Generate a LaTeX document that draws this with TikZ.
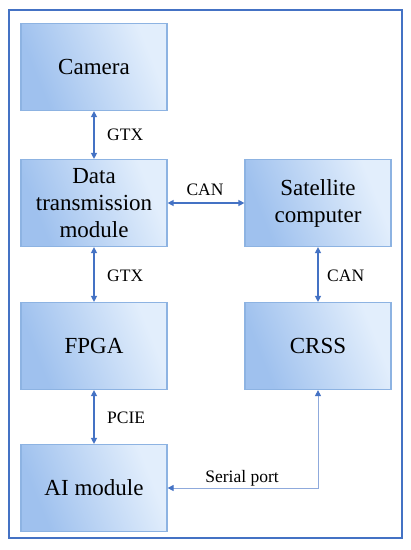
\documentclass[tikz,border=0pt]{standalone}
\usepackage{fontspec}
\setmainfont{Liberation Serif}
\usetikzlibrary{arrows.meta}
\definecolor{frameblue}{HTML}{4472C4}
\definecolor{lineblue}{HTML}{4472C4}
\definecolor{lightline}{HTML}{8FAADC}
\definecolor{boxborder}{HTML}{8DB3E2}
\definecolor{boxdark}{HTML}{9FC1EE}
\definecolor{boxlight}{HTML}{E2EEFC}
\pgfdeclareverticalshading{boxshade}{100bp}{color(0bp)=(boxdark); color(28bp)=(boxdark); color(72bp)=(boxlight); color(100bp)=(boxlight)}
\tikzset{
  blockbox/.style={rectangle, draw=boxborder, line width=1.2pt, shading=boxshade, shading angle=-68,
    minimum width=146pt, minimum height=87pt, inner sep=0pt, align=center,
    font=\fontsize{23}{27}\selectfont, text=black},
  conn/.style={line width=1.3pt, draw=lineblue, {Triangle[length=6pt,width=6pt]}-{Triangle[length=6pt,width=6pt]}},
  serialconn/.style={line width=0.9pt, draw=lightline,
    {Triangle[length=6pt,width=6pt,color=lineblue]}-{Triangle[length=6pt,width=6pt,color=lineblue]}},
  lbl/.style={font=\fontsize{17.5}{20}\selectfont, text=black, inner sep=0pt}
}
\begin{document}
\begin{tikzpicture}[x=1pt,y=-1pt]
\useasboundingbox (0,0) rectangle (411,550);
\draw[frameblue, line width=2pt] (9,10) rectangle (402,538);
\node[blockbox] (cam) at (94,67) {Camera};
\node[blockbox] (dtm) at (94,203) {Data\\transmission\\module};
\node[blockbox] (sat) at (318,203) {Satellite\\computer};
\node[blockbox] (fpga) at (94,346) {FPGA};
\node[blockbox] (crss) at (318,346) {CRSS};
\node[blockbox] (ai) at (94,488) {AI module};
\coordinate (corner) at (318,488);
\draw[conn] (cam.south) -- (dtm.north);
\draw[conn] (dtm.east) -- (sat.west);
\draw[conn] (dtm.south) -- (fpga.north);
\draw[conn] (sat.south) -- (crss.north);
\draw[conn] (fpga.south) -- (ai.north);
\draw[serialconn] (crss.south) -- (corner) -- (ai.east);
\node[lbl, anchor=west] (l1) at (107,135) {GTX};
\node[lbl] (l2) at (205,190) {CAN};
\node[lbl, anchor=west] (l3) at (107,276) {GTX};
\node[lbl, anchor=west] (l4) at (327,276) {CAN};
\node[lbl, anchor=west] (l5) at (107,418) {PCIE};
\node[lbl] (l6) at (242,478) {Serial port};
\end{tikzpicture}
\end{document}
